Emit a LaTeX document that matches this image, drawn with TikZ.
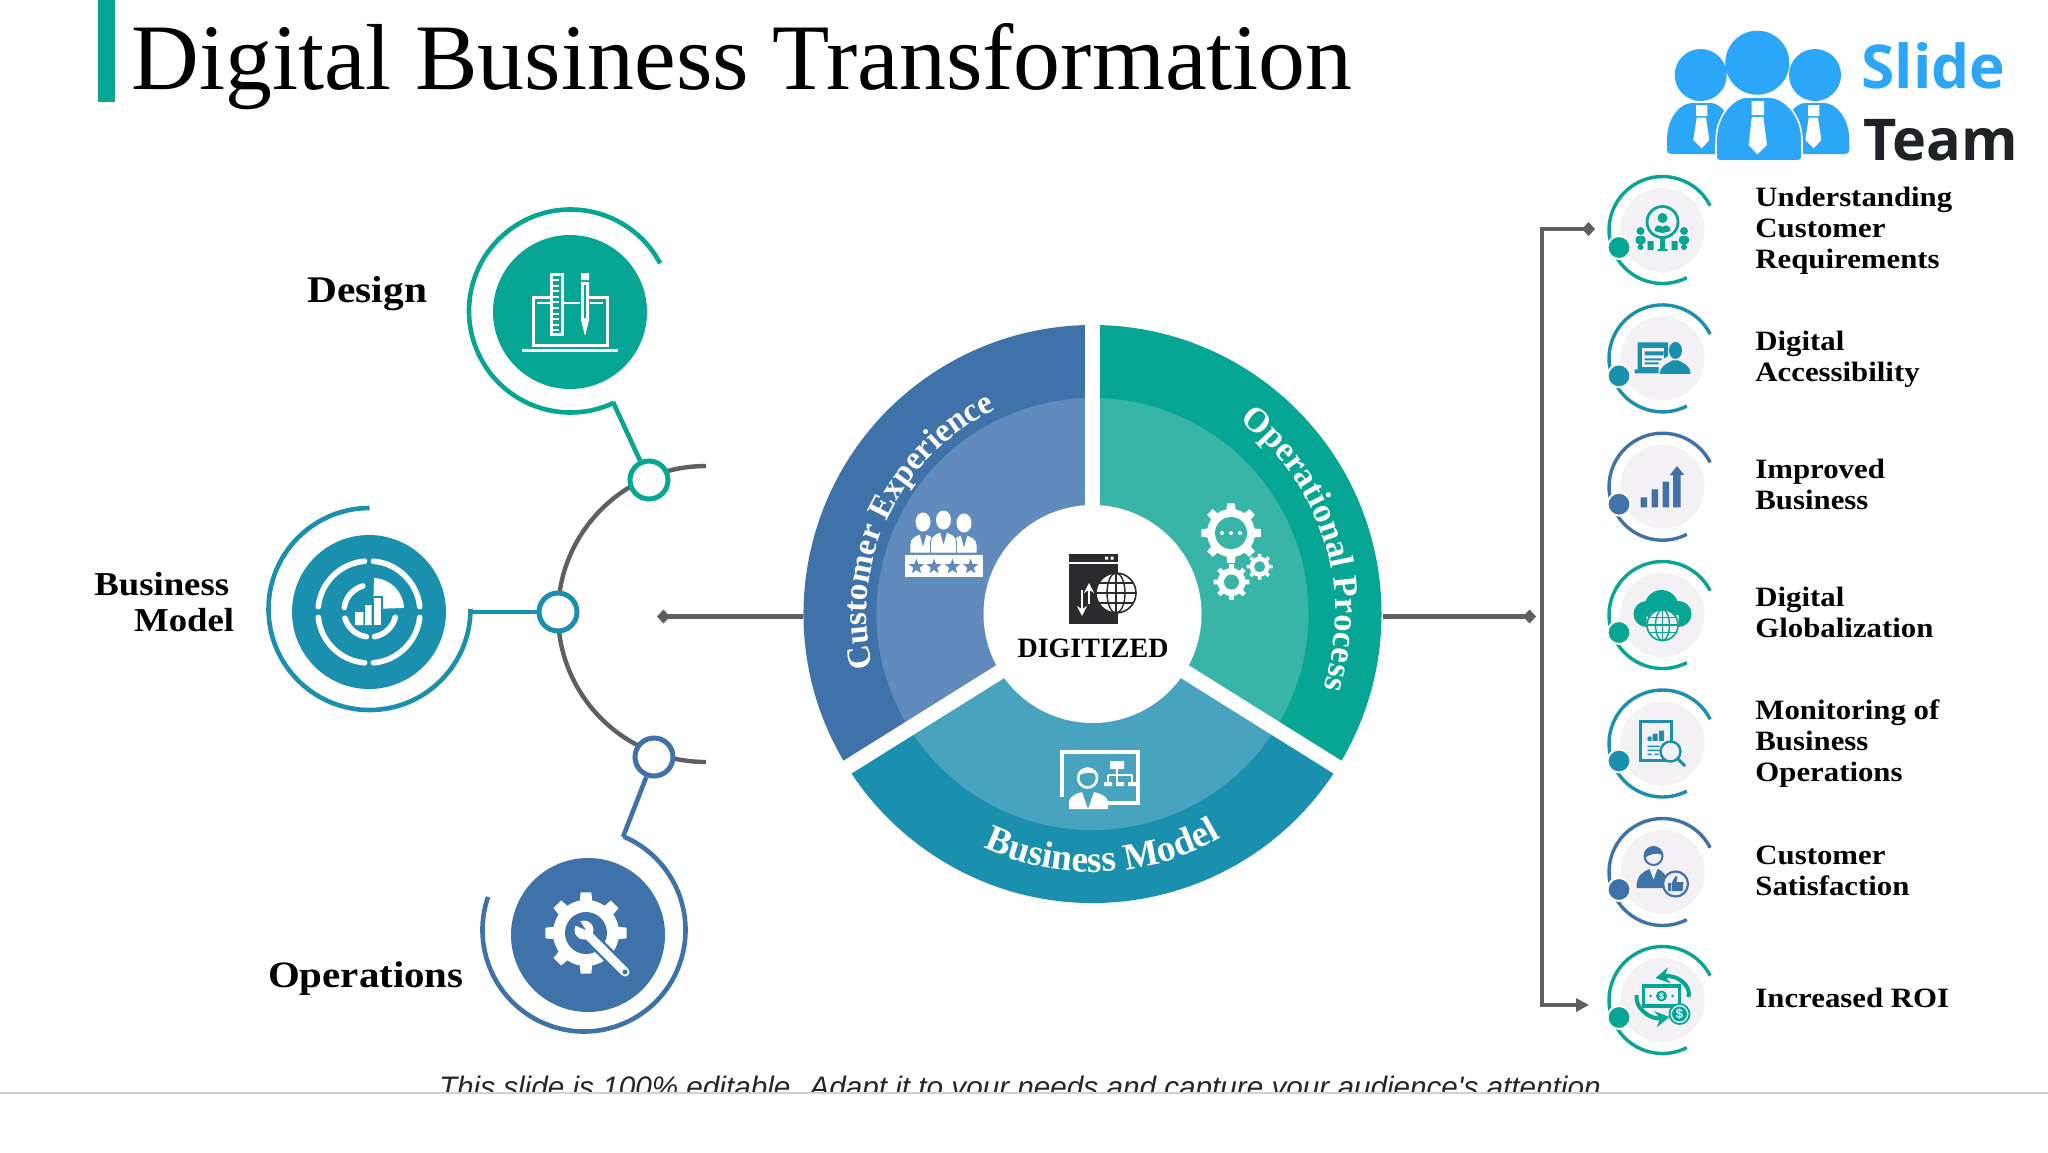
\documentclass[tikz,border=0pt]{standalone}
\usepackage{fontspec}
\setmainfont{Liberation Serif}
\newfontfamily\lab[FakeStretch=1.1]{Liberation Serif}
\newfontfamily\logofont{Open Sans}
\newfontfamily\footfont{Liberation Sans}
\usetikzlibrary{decorations.text,arrows.meta}
\definecolor{cteal}{HTML}{07A593}
\definecolor{cteall}{HTML}{38B5A7}
\definecolor{cmid}{HTML}{1B8FAE}
\definecolor{cmidl}{HTML}{47A3BE}
\definecolor{cblue}{HTML}{3F72A9}
\definecolor{cbluel}{HTML}{608BBC}
\definecolor{cgray}{HTML}{5F5F63}
\definecolor{csoft}{HTML}{F3F1F3}
\definecolor{clogo}{HTML}{2BA6F8}
\definecolor{cdark}{HTML}{1F2328}
\definecolor{cicon}{HTML}{2B2B2D}
\newcommand{\garc}[6][]{\draw[#1] (#2,#3) ++(#5:#4) arc[start angle=#5,end angle=#6,radius=#4];}
\newcommand{\sect}[6]{\fill[#1] (#2,#3) -- ++(#5:#4) arc[start angle=#5,end angle=#6,radius=#4] -- cycle;}
\newcommand{\geardraw}[7]{% cx cy ro ri n holer holecolor
  \begin{scope}[shift={(#1,#2)}]
    \fill[white] (0,0) circle[radius=#4];
    \foreach \gk in {1,...,#5}{
      \pgfmathsetmacro\ga{\gk*360/#5}
      \pgfmathsetmacro\gd{90/#5}
      \pgfmathsetmacro\ge{60/#5}
      \fill[white] (\ga-\gd:#4-1) -- (\ga-\ge:#3) -- (\ga+\ge:#3) -- (\ga+\gd:#4-1) -- cycle;
    }
    \fill[#7] (0,0) circle[radius=#6];
  \end{scope}}
\newcommand{\starx}[4]{\fill[#4,shift={(#1,#2)}] (-90:#3)--(-54:.42*#3)--(-18:#3)--(18:.42*#3)--(54:#3)--(90:.42*#3)--(126:#3)--(162:.42*#3)--(198:#3)--(234:.42*#3)--cycle;}
\newcommand{\globedraw}[5]{% cx cy r bg fg
  \begin{scope}[shift={(#1,#2)}]
    \fill[#4] (0,0) circle[radius=#3];
    \draw[#5,line width=.8pt] (0,0) circle[radius=#3];
    \draw[#5,line width=.7pt] (0,0) ellipse[x radius=.45*#3,y radius=#3];
    \draw[#5,line width=.7pt] (0,-#3) -- (0,#3) (-#3,0) -- (#3,0);
    \draw[#5,line width=.7pt] (-.86*#3,-.5*#3) -- (.86*#3,-.5*#3) (-.86*#3,.5*#3) -- (.86*#3,.5*#3);
  \end{scope}}
\newcommand{\itemring}[2]{% y colour
  \fill[csoft] (1662.5,#1) circle[radius=42];
  \garc[#2,line width=1.7pt]{1662.5}{#1}{53.5}{-27}{-297}
  \fill[#2,draw=white,line width=1pt] (1619,#1+17.5) circle[radius=11.5];}
\newcommand{\bustdraw}[2]{% x ytop
  \fill[white] (#1,#2+9) ellipse[x radius=7.5,y radius=9.5];
  \fill[white,draw=cbluel,line width=.4pt] (#1-13,553) -- (#1-13,#2+31) .. controls (#1-13,#2+25) and (#1-8,#2+23) .. (#1-3,#2+21) -- (#1,#2+32) -- (#1+3,#2+21) .. controls (#1+8,#2+23) and (#1+13,#2+25) .. (#1+13,#2+31) -- (#1+13,553) -- cycle;}
\tikzset{
  biglab/.style={font=\lab\bfseries\fontsize{18.8}{18}\selectfont,inner sep=0pt},
  rlab/.style={font=\lab\bfseries\fontsize{14}{15.5}\selectfont,inner sep=0pt,anchor=west,align=left},
  dotnode/.style={circle,draw=#1,fill=white,line width=2.5pt,minimum size=19pt,inner sep=0pt},
  link/.style={#1,line width=2.3pt},
  bus/.style={cgray,line width=2.2pt},
  bigring/.style={#1,line width=2.3pt},
}
\def\wfonta{\bfseries\fontsize{16.7}{17}\selectfont\color{white}}
\def\wfontc{\bfseries\fontsize{17.3}{18}\selectfont\color{white}}
\def\wfontb{\bfseries\fontsize{18.7}{19}\selectfont\color{white}}
\begin{document}
\begin{tikzpicture}[x=.5pt,y=-.5pt]
\useasboundingbox (0,0) rectangle (2048,1152);
\fill[white] (0,0) rectangle (2048,1152);
% title
\fill[cteal] (98,0) rectangle (115,102);
\node[anchor=base west,inner sep=0pt,font=\fontsize{46.9}{50}\selectfont] (title) at (131,89) {Digital Business Transformation};
% logo
\fill[clogo] (1700.7,75) circle[radius=26] (1815,75) circle[radius=26] (1757.3,62.7) circle[radius=32];
\fill[clogo,rounded corners=2pt] (1667,154) -- (1667,140) .. controls (1668,118) and (1680,103) .. (1696,103) -- (1707,103) .. controls (1722,103) and (1734,120) .. (1735,154) -- cycle;
\fill[clogo,rounded corners=2pt] (1849.3,154) -- (1849.3,140) .. controls (1848,118) and (1836,103) .. (1820,103) -- (1809,103) .. controls (1794,103) and (1782,120) .. (1781,154) -- cycle;
\fill[clogo,draw=white,line width=.8pt,rounded corners=2pt] (1716,161) -- (1716,140) .. controls (1718,112) and (1736,97) .. (1750,97) -- (1765,97) .. controls (1782,97) and (1800,112) .. (1802,140) -- (1802,161) -- cycle;
\fill[white] (1751.5,101) rectangle (1764,115) (1751.7,117) -- (1763.3,117) -- (1767,145) -- (1757.3,154.3) -- (1748.7,145) -- cycle;
\fill[white] (1696,105) rectangle (1707.3,116) (1696.7,117.7) -- (1706,117.7) -- (1709.3,140) -- (1701.7,148.3) -- (1693.3,140) -- cycle;
\fill[white] (1808,105) rectangle (1819.3,116) (1808.7,117.7) -- (1818,117.7) -- (1821.3,140) -- (1813.7,148.3) -- (1805.3,140) -- cycle;
\node[anchor=base west,inner sep=0pt,text=clogo,font=\logofont\bfseries\fontsize{30.2}{31}\selectfont] (lgA) at (1861,88.5) {Slide};
\node[anchor=base west,inner sep=0pt,text=cdark,font=\logofont\bfseries\fontsize{28.8}{31}\selectfont] (lgB) at (1863,160.5) {Team};
% grey arc and left hub
\garc[cgray,line width=2.2pt]{706}{614}{148}{-90}{-270}
\node[dotnode=cteal] (ndA) at (649,480) {};
\node[dotnode=cmid] (ndB) at (558,612) {};
\node[dotnode=cblue] (ndC) at (654,757) {};
% Design
\fill[cteal] (570,312) circle[radius=77];
\garc[bigring=cteal]{570.5}{311}{101.5}{-28}{-295}
\coordinate (lkA) at (613,402);
\draw[link=cteal] (lkA) -- (ndA);
\node[biglab,anchor=base east] (tA) at (427.5,302) {Design};
\draw[white,line width=1.5pt] (550,297) -- (533,297) -- (533,345) -- (607,345) -- (607,297) -- (589,297);
\draw[white,line width=.8pt] (537,303) -- (550,303) (564,303) -- (580,303) (590,303) -- (603,303);
\draw[white,line width=1.5pt] (522,350) -- (618,350);
\fill[white] (550,273) rectangle (564,336);
\fill[cteal] (553,276) rectangle (561,333);
\foreach \k in {0,1,...,9}{\fill[white] (553,279+\k*5.6) rectangle (559,281+\k*5.6);}
\fill[white] (581,273) rectangle (589,280) (581,282) rectangle (589,320) (581,320) -- (589,320) -- (585,336) -- cycle;
\fill[cteal] (584,285) rectangle (586,318);
% Business model
\fill[cmid] (369,612) circle[radius=77];
\garc[bigring=cmid]{369.5}{609}{101}{-90}{-360}
\coordinate (lkB) at (471,612);
\draw[link=cmid] (lkB) -- (ndB);
\node[biglab,anchor=base east,align=right,font=\lab\bfseries\fontsize{16.7}{18}\selectfont] (tB) at (234.5,631) {Business\kern2.5pt\\Model};
\foreach \s in {-85,6,95,186}{\garc[white,line width=2.8pt,line cap=round]{369}{612}{51}{\s}{\s+79}}
\foreach \s in {98,14,188}{\garc[white,line width=2.8pt,line cap=round]{370}{611}{26}{\s}{\s+66}}
\sect{white}{373}{609}{31}{-88}{-2}
\fill[white] (355,612) rectangle (363.4,625) (365,605) rectangle (371.5,625);
\fill[cmid] (372,596) rectangle (383,626);
\fill[white] (373.5,598) rectangle (381,625);
% Operations
\fill[cblue] (588,935) circle[radius=77];
\garc[bigring=cblue]{584}{930}{101.5}{199}{-67}
\coordinate (lkC) at (623,837);
\draw[link=cblue] (lkC) -- (ndC);
\node[biglab,anchor=base east,font=\lab\bfseries\fontsize{18.6}{18}\selectfont] (tC) at (464,987) {Operations};
\geardraw{586}{933}{41}{33}{8}{21}{cblue}
\draw[cblue,line width=7pt] (590,937) -- (625,972);
\draw[white,line width=4.5pt,line cap=round] (588,935) -- (625,972);
\fill[cblue] (625,972) circle[radius=2.5];
\fill[white] (584,930) circle[radius=9.5];
\fill[cblue] (578,918) -- (586,930) -- (574,925) -- cycle;
% donut
\sect{cblue}{1092.5}{614}{289}{148}{270}
\sect{cteal}{1092.5}{614}{289}{-90}{32}
\sect{cmid}{1092.5}{614}{289}{32}{148}
\sect{cbluel}{1092.5}{614}{216}{148}{270}
\sect{cteall}{1092.5}{614}{216}{-90}{32}
\sect{cmidl}{1092.5}{614}{216}{32}{148}
\draw[white,line width=7.5pt] (1092.5,614) -- ++(-90:300);
\draw[white,line width=7.5pt] (1092.5,614) -- ++(32:300);
\draw[white,line width=7.5pt] (1092.5,614) -- ++(148:300);
\fill[white] (1092.5,614) circle[radius=109];
\path[decorate,decoration={text along path,text align=center,text={|\wfonta|Customer Experience}}] (1092.5,614) ++(155.5:226) arc[start angle=155.5,end angle=255.5,radius=226];
\path[decorate,decoration={text along path,text align=center,text={|\wfontc|Operational Process}}] (1092.5,614) ++(-67.5:243) arc[start angle=-67.5,end angle=32.5,radius=243];
\path[decorate,decoration={text along path,text align=center,text={|\wfontb|Business Model}}] (1092.5,614) ++(127.5:258) arc[start angle=127.5,end angle=47.5,radius=258];
% centre
\fill[cicon] (1068.6,554) rectangle (1118,624);
\draw[white,line width=.7pt] (1068.6,563) -- (1118,563);
\fill[white] (1105,556.5) rectangle (1108,559.5) (1110.5,556.5) rectangle (1113.5,559.5);
\globedraw{1116}{593}{20}{white}{cicon}
\draw[white,line width=.9pt,-{Stealth[length=5pt,width=5pt]}] (1089,604) -- (1089,583);
\draw[white,line width=.9pt,-{Stealth[length=5pt,width=5pt]}] (1082,590) -- (1082,616);
\node[inner sep=0pt,anchor=base,font=\bfseries\fontsize{14}{14}\selectfont] (centre) at (1093,657.5) {DIGITIZED};
% customer icon
\bustdraw{923}{513}
\bustdraw{964}{514}
\bustdraw{943.5}{511}
\fill[white] (905,555) rectangle (982.5,577);
\foreach \sx in {916.4,934,952.4,970.6}{\starx{\sx}{566.7}{8}{cbluel}}
% gears icon
\geardraw{1231}{533}{30}{24}{8}{16}{cteall}
\fill[white] (1222,533) circle[radius=2] (1231,533) circle[radius=2] (1240,533) circle[radius=2];
\geardraw{1231.5}{582}{18}{14}{8}{7.5}{cteall}
\geardraw{1259.6}{566.7}{13}{10}{8}{5.5}{cteall}
% business icon
\draw[white,line width=1.6pt] (1062,797) -- (1062,752) -- (1138,752) -- (1138,803) -- (1105,803);
\fill[white] (1069,809) -- (1069,802) .. controls (1070,795) and (1078,793) .. (1082,792) -- (1088,809) -- (1094,792) .. controls (1098,793) and (1107,795) .. (1108,802) -- (1108,809) -- cycle;
\draw[white,line width=1.3pt,fill=cmidl] (1087.6,778) circle[radius=9.5];
\fill[white] (1079,775) .. controls (1082,767) and (1094,767) .. (1097,775) .. controls (1092,771) and (1084,773) .. (1079,775) -- cycle;
\fill[white] (1110,761) rectangle (1124,769) (1104,782) rectangle (1112,786) (1116,782) rectangle (1124,786) (1128,782) rectangle (1136,786);
\draw[white,line width=.6pt] (1117,769) -- (1117,782) (1108,775) -- (1132,775) (1108,775) -- (1108,782) (1132,775) -- (1132,782);
% connectors
\coordinate (hubLa) at (803,616.5);
\coordinate (hubLb) at (657,616.5);
\coordinate (hubRa) at (1383,616.5);
\coordinate (hubRb) at (1536,616.5);
\draw[bus,-{Diamond[length=6.5pt,width=7pt]}] (hubLa) -- (hubLb);
\draw[bus,-{Diamond[length=6.5pt,width=7pt]}] (hubRa) -- (hubRb);
\coordinate (busT) at (1595,229);
\coordinate (busTc) at (1542,229);
\coordinate (busBc) at (1542,1005);
\coordinate (busB) at (1589,1005);
\draw[bus,{Diamond[length=6.5pt,width=7pt]}-{Triangle[length=6.5pt,width=6.5pt]}] (busT) -- (busTc) -- (busBc) -- (busB);
% items
\itemring{230}{cteal}
\itemring{358.4}{cmid}
\itemring{486.7}{cblue}
\itemring{615}{cteal}
\itemring{743.5}{cmid}
\itemring{872}{cblue}
\itemring{1000}{cteal}
% item 1
\begin{scope}[shift={(1662.5,230)}]
\draw[cteal,line width=1.4pt] (0,-8) circle[radius=15.5];
\fill[cteal] (0,-12) circle[radius=5];
\fill[cteal] (-8,1) .. controls (-8,-5) and (-3,-6) .. (0,-3) .. controls (3,-6) and (8,-5) .. (8,1) -- (0,3) -- cycle;
\fill[cteal] (-2.5,7) rectangle (2.5,19) (-5,19) rectangle (5,21);
\fill[cteal] (-22,1) circle[radius=4] (21.5,1) circle[radius=4];
\fill[cteal,rounded corners=1.5pt] (-27,6) rectangle (-17,14) (-25,14) rectangle (-19,20) (16.5,6) rectangle (26.5,14) (18.5,14) rectangle (24.5,20);
\fill[cteal] (-15,11) rectangle (-9,20) (9,11) rectangle (15,20);
\end{scope}
% item 2
\begin{scope}[shift={(1662.5,358.4)}]
\fill[cmid] (-25,-16) rectangle (5.6,11) (-28,11) rectangle (-2,15);
\fill[csoft] (-21,-10) rectangle (1,9);
\fill[cmid] (-18,-7) rectangle (1,-3) (-18,0) rectangle (-1,2) (-18,4) rectangle (-1,6);
\fill[csoft] (-4,16) -- (-4,4) -- (8,-4) -- (20,0) -- (29,16) -- cycle;
\fill[cmid] (13,-8) ellipse[x radius=6.5,y radius=8.5];
\fill[cmid] (-3,15.5) .. controls (-2,7) and (5,5) .. (10,2) -- (16,2) .. controls (21,5) and (28,7) .. (28,15.5) -- cycle;
\end{scope}
% item 3
\begin{scope}[shift={(1662.5,486.7)}]
\fill[cblue] (-22,10.7) rectangle (-15.3,20.7) (-11,2.7) rectangle (-4.3,20.7) (0,-5) rectangle (6.7,20.7) (10.7,-12) rectangle (18,20.7);
\fill[cblue] (7.3,-11.7) -- (21.7,-11.7) -- (14.5,-20.7) -- cycle;
\end{scope}
% item 4
\begin{scope}[shift={(1662.5,615)}]
\fill[cteal] (-1,-8) circle[radius=17] (-16,-1) circle[radius=13] (16,-1) circle[radius=13] (-16,0) rectangle (16,12);
\globedraw{0}{10}{15.5}{csoft}{cteal}
\end{scope}
% item 5
\begin{scope}[shift={(1662.5,743.5)}]
\draw[cmid,line width=1.2pt,fill=csoft] (-22,-22) rectangle (9,17);
\fill[cmid] (-15,-7) rectangle (-11,-2.7) (-10,-10) rectangle (-5,-2.7) (-3.3,-13) rectangle (1.7,-2.7);
\fill[cmid] (-15,2) rectangle (-3,3.6) (-15,6) rectangle (-3,7.6) (-15,10) rectangle (-11,11.6) (-8,10) rectangle (-4,11.6);
\draw[cmid,line width=1.2pt,fill=csoft] (8,8) circle[radius=10];
\draw[cmid,line width=1.5pt,line cap=round] (15,15) -- (22,22);
\end{scope}
% item 6
\begin{scope}[shift={(1662.5,872)}]
\draw[cblue,line width=1pt] (-9,-16) circle[radius=9];
\fill[cblue] (-18,-17) .. controls (-18,-28) and (0,-28) .. (0,-17) .. controls (-5,-20) and (-13,-18) .. (-18,-14) -- cycle;
\fill[cblue] (-26,16) .. controls (-26,3) and (-20,0) .. (-13,-3) -- (-9,8) -- (-5,-3) .. controls (0,-1) and (4,1) .. (6,16) -- cycle;
\draw[cblue,line width=1.1pt,fill=csoft] (13,12) circle[radius=12.5];
\fill[cblue] (5,11) rectangle (8,19);
\fill[cblue] (9,11) -- (13,4) -- (15,5) -- (14,10) -- (21,10) -- (20,19) -- (9,19) -- cycle;
\end{scope}
% item 7
\begin{scope}[shift={(1662.5,1000)}]
\draw[cteal,line width=1.6pt] (-19,-14) rectangle (17,6);
\fill[cteal] (-1,-4) circle[radius=5.5] (-12,-4) circle[radius=1.5] (10,-4) circle[radius=1.5];
\node[inner sep=0pt,text=white,font=\footfont\bfseries\fontsize{4.5}{5}\selectfont] (mnA) at (-1,-4) {\$};
\draw[cteal,line width=2pt,-{Stealth[length=7pt,width=8pt]}] (26,-3) .. controls (29,-15) and (14,-26) .. (-7,-22);
\draw[cteal,line width=2pt,-{Stealth[length=7pt,width=8pt]}] (-26,-5) .. controls (-28,8) and (-12,20) .. (7,17);
\draw[cteal,line width=.9pt,fill=csoft] (17,14) circle[radius=10];
\fill[cteal] (17,14) circle[radius=7.5];
\node[inner sep=0pt,text=white,font=\footfont\bfseries\fontsize{6.5}{7}\selectfont] (mnB) at (17,14) {\$};
\end{scope}
% right labels
\node[rlab] (r1) at (1755,231) {Understanding\\Customer\\Requirements};
\node[rlab] (r2) at (1755,359.5) {Digital\\Accessibility};
\node[rlab] (r3) at (1755,484.5) {Improved\\Business};
\node[rlab] (r4) at (1755,612.5) {Digital\\Globalization};
\node[rlab] (r5) at (1755,744) {Monitoring of\\Business\\Operations};
\node[rlab] (r6) at (1755,870.5) {Customer\\Satisfaction};
\node[rlab] (r7) at (1755,998) {Increased ROI};
% footer
\begin{scope}
\clip (0,0) rectangle (2048,1092.5);
\node[anchor=base,inner sep=0pt,font=\footfont\itshape\fontsize{14.84}{15}\selectfont,text=black!85] (foot) at (1024,1097.5) {This slide is 100\% editable. Adapt it to your needs and capture your audience's attention.};
\end{scope}
\coordinate (ftA) at (0,1093);
\coordinate (ftB) at (2048,1093);
\draw[black!18,line width=.8pt] (ftA) -- (ftB);
\end{tikzpicture}
\end{document}
